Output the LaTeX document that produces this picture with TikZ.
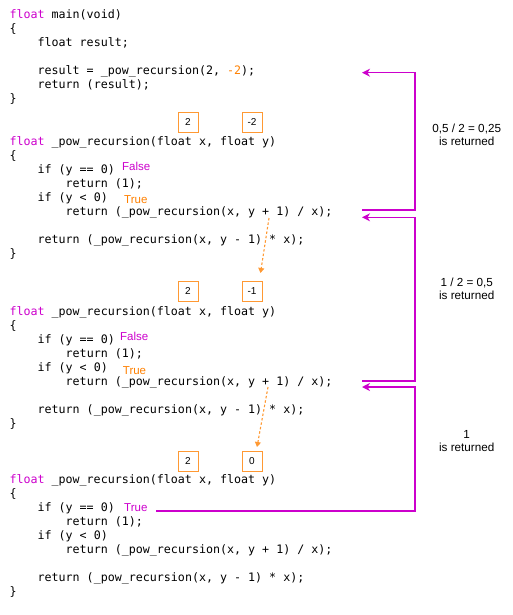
\documentclass[tikz,border=0pt]{standalone}
\usepackage{fontspec}
\setmainfont{Liberation Sans}
\newfontfamily\codefont{DejaVu Sans Mono}
\usetikzlibrary{arrows.meta}
\definecolor{mag}{HTML}{CC00CC}
\definecolor{orng}{HTML}{FF8000}
\definecolor{obox}{HTML}{FF9933}
\newcommand{\kw}[1]{\textcolor{mag}{#1}}
\begin{document}
\begin{tikzpicture}[x=1pt,y=-1pt,
  code/.style={anchor=base west,inner sep=0pt,font=\codefont\fontsize{11.66pt}{14pt}\selectfont},
  valbox/.style={draw=obox,line width=0.9pt,minimum width=20pt,minimum height=20pt,inner sep=0pt,font=\fontsize{10pt}{12pt}\selectfont},
  cond/.style={anchor=west,inner sep=0pt,font=\fontsize{11.5pt}{13pt}\selectfont},
  retlabel/.style={align=center,inner sep=0pt,font=\fontsize{11.7pt}{13.5pt}\selectfont},
  retarrow/.style={draw=mag,line width=1.6pt,-{Stealth[length=8pt,width=8pt,inset=2.5pt]}},
  retline/.style={draw=mag,line width=1.6pt},
  callarrow/.style={draw=obox,line width=1.1pt,dash pattern=on 2.5pt off 2pt,-{Triangle[length=5pt,width=6pt]}}]
\useasboundingbox (0,0) rectangle (513,615);
% main
\node[code] (m1) at (9.3,18.4) {\kw{float} main(void)};
\node[code] (m2) at (9.3,32.4) {\{};
\node[code] (m3) at (37.4,46.4) {float result;};
\node[code] (m4) at (37.4,74.4) {result = \_pow\_recursion(2, \textcolor{orng}{-2});};
\node[code] (m5) at (37.4,88.4) {return (result);};
\node[code] (m6) at (9.3,102.4) {\}};
% call 1
\node[valbox] (ax) at (188,122) {2};
\node[valbox] (ay) at (252,122) {-2};
\node[code] (a1) at (9.3,145.5) {\kw{float} \_pow\_recursion(float x, float y)};
\node[code] (a2) at (9.3,159.5) {\{};
\node[code] (a3) at (37.4,173.5) {if (y == 0)};
\node[code] (a4) at (65.5,187.5) {return (1);};
\node[code] (a5) at (37.4,201.5) {if (y < 0)};
\node[code] (a6) at (65.5,215.5) {return (\_pow\_recursion(x, y + 1) / x);};
\node[code] (a7) at (37.4,243.5) {return (\_pow\_recursion(x, y - 1) * x);};
\node[code] (a8) at (9.3,257.5) {\}};
\node[cond,text=mag] (af) at (122,166) {False};
\node[cond,text=orng] (at) at (124,200) {True};
% call 2
\node[valbox] (bx) at (188,291) {2};
\node[valbox] (by) at (252,291) {-1};
\node[code] (b1) at (9.3,315.5) {\kw{float} \_pow\_recursion(float x, float y)};
\node[code] (b2) at (9.3,329.5) {\{};
\node[code] (b3) at (37.4,343.5) {if (y == 0)};
\node[code] (b4) at (65.5,357.5) {return (1);};
\node[code] (b5) at (37.4,371.5) {if (y < 0)};
\node[code] (b6) at (65.5,385.5) {return (\_pow\_recursion(x, y + 1) / x);};
\node[code] (b7) at (37.4,413.5) {return (\_pow\_recursion(x, y - 1) * x);};
\node[code] (b8) at (9.3,427.5) {\}};
\node[cond,text=mag] (bf) at (120,336.7) {False};
\node[cond,text=orng] (bt) at (122.7,370.7) {True};
% call 3
\node[valbox] (cx) at (188,461) {2};
\node[valbox] (cy) at (252,461) {0};
\node[code] (c1) at (9.3,483.8) {\kw{float} \_pow\_recursion(float x, float y)};
\node[code] (c2) at (9.3,497.8) {\{};
\node[code] (c3) at (37.4,511.8) {if (y == 0)};
\node[code] (c4) at (65.5,525.8) {return (1);};
\node[code] (c5) at (37.4,539.8) {if (y < 0)};
\node[code] (c6) at (65.5,553.8) {return (\_pow\_recursion(x, y + 1) / x);};
\node[code] (c7) at (37.4,581.8) {return (\_pow\_recursion(x, y - 1) * x);};
\node[code] (c8) at (9.3,595.8) {\}};
\node[cond,text=mag] (ct) at (124,507.7) {True};
% return labels
\node[retlabel] (r1) at (466.7,134.7) {0,5 / 2 = 0,25\\is returned};
\node[retlabel] (r2) at (466.7,289) {1 / 2 = 0,5\\is returned};
\node[retlabel] (r3) at (466.7,441) {1\\is returned};
% connector points
\coordinate (p1s) at (362,210);
\coordinate (p1e) at (362,72.7);
\coordinate (p2s) at (362,380.7);
\coordinate (p2e) at (362,217.3);
\coordinate (p3s) at (156,510.7);
\coordinate (p3e) at (362,387);
\coordinate (d1s) at (269,218);
\coordinate (d1e) at (260.5,273);
\coordinate (d2s) at (268,387);
\coordinate (d2e) at (257,447);
% return arrows
\draw[retarrow] (p3s) -- (415,510.7) -- (415,387) -- (p3e);
\draw[retarrow] (p2s) -- (415,380.7) -- (415,217.3) -- (p2e);
\draw[retarrow] (p1s) -- (415,210) -- (415,72.7) -- (p1e);
% call arrows
\draw[callarrow] (d1s) -- (d1e);
\draw[callarrow] (d2s) -- (d2e);
\end{tikzpicture}
\end{document}
